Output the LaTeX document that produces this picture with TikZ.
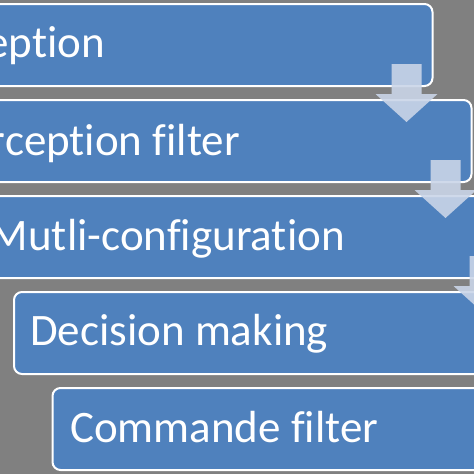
\documentclass[tikz,border=0pt]{standalone}
\usepackage{fontspec}
\setmainfont{Carlito}[Ligatures=NoCommon]
\usetikzlibrary{calc}
\definecolor{stepblue}{RGB}{79,129,189}
\definecolor{bggray}{RGB}{128,128,128}
\definecolor{arrowblue}{RGB}{202,213,232}

\begin{document}
\begin{tikzpicture}[x=1pt,y=1pt,
	stage/.style={draw=white,line width=2pt,fill=stepblue,rounded corners=8pt,
		minimum width=535pt,minimum height=82pt,inner sep=0pt},
	stagetext/.style={text=white,inner sep=0pt,font=\fontsize{45}{50}\selectfont},
	blockarrow/.style={fill=arrowblue,fill opacity=0.9}]
	\useasboundingbox (0,0) rectangle (474,-474);
	\fill[bggray] (0,0) rectangle (474,-474);
	\clip (0,0) rectangle (474,-474);
	
	% the five stages, stepping to the right
	\node (B1)[stage] at (165,-45) {};
	\node (B2)[stage] at (204,-141) {};
	\node (B3)[stage] at (243,-237) {};
	\node (B4)[stage] at (281.5,-333) {};
	\node (B5)[stage] at (320,-429) {};
	
	\node (T1)[stagetext,anchor=base east] at (105,-57) {Perception};
	\node (T2)[stagetext,anchor=base east] at (240,-155) {Perception filter};
	\node (T3)[stagetext,anchor=base east] at (345,-250) {Mutli-configuration};
	\node (T4)[stagetext,anchor=base west] at (30,-345) {Decision making};
	\node (T5)[stagetext,anchor=base west] at (70,-442) {Commande filter};
	
	% block arrows between stages
	\foreach \a/\b in {B1/B2,B2/B3,B3/B4,B4/B5}{
		\coordinate (P) at ($(\a.south east)+(-27,0)$);
		\coordinate (Q) at ($(P |- \b.north)+(0,-23)$);
		\fill[blockarrow] 
		($(P)+(-15,23)$) -- ($(P)+(15,23)$) -- ($(P)+(15,-7)$) -- ($(P)+(31,-7)$)
		-- (Q) -- ($(P)+(-31,-7)$) -- ($(P)+(-15,-7)$) -- cycle;
	}
\end{tikzpicture}
\end{document}
